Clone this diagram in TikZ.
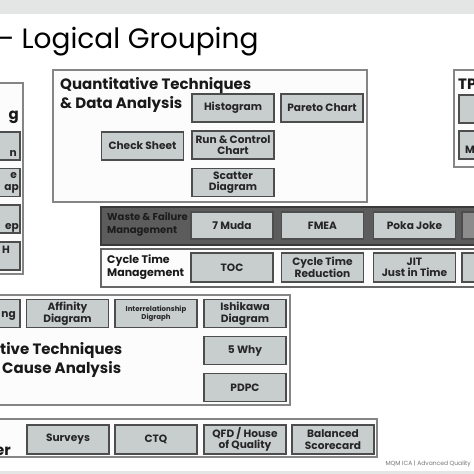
\documentclass[tikz,border=0pt]{standalone}
\usepackage{fontspec}
\setmainfont{Poppins}

\definecolor{toolfill}{HTML}{C8CECE}
\definecolor{toolline}{HTML}{4D4D4D}
\definecolor{groupline}{HTML}{858585}
\definecolor{groupfill}{HTML}{FCFCFC}
\definecolor{bandgray}{HTML}{E4E6E6}
\definecolor{wastefill}{HTML}{5C5C5C}
\definecolor{wasteline}{HTML}{3A3A3A}
\definecolor{wastetext}{HTML}{1C1C1C}

\tikzset{
  tool/.style={draw=toolline, fill=toolfill, line width=1.1pt, minimum width=82pt,
    minimum height=28pt, inner sep=1pt, align=center, text=black!85,
    font=\bfseries\fontsize{10.6}{11.5}\selectfont},
  tooltext/.style={inner sep=0pt, anchor=base east, text=black!85,
    font=\bfseries\fontsize{10.6}{11.5}\selectfont},
  group/.style={draw=groupline, fill=groupfill, line width=1.1pt},
  grouptitle/.style={inner sep=0pt, anchor=base west, text=black!90,
    font=\bfseries\fontsize{15}{19}\selectfont},
  rowtitle/.style={inner sep=0pt, anchor=base west, text=black!90,
    font=\bfseries\fontsize{11}{12}\selectfont},
}

\begin{document}
\begin{tikzpicture}[x=1pt,y=-1pt]
        \useasboundingbox (0,0) rectangle (474,474);
        \clip (0,0) rectangle (474,474);
        \fill[bandgray] (0,0) rectangle (474,14);
        \fill[bandgray] (0,471) rectangle (474,474);
        \node[inner sep=0pt, anchor=base west, font=\fontsize{28}{32}\selectfont] (heading) at (-5,48) {– Logical Grouping};

        % left group (cut off)
        \draw[group] (-10,83) rectangle (23,274);
        \node[grouptitle, anchor=base east] (leftttl) at (19,119) {g};
        \node[tool] (left1) at (-21,146) {};
        \node[tool] (left2) at (-21,182.5) {};
        \node[tool] (left3) at (-21,219) {};
        \node[tool] (left4) at (-21,256) {};
        \node[tooltext] (frag1) at (17,156) {n};
        \node[tooltext] (frag2) at (17,178) {e};
        \node[tooltext] (frag3) at (19,190) {ap};
        \node[tooltext] (frag4) at (19,229) {ep};
        \node[tooltext] (frag5) at (10,253) {H};

        % quantitative techniques
        \draw[group] (53,70) rectangle (367,202);
        \node[grouptitle] (quantA) at (60,89) {Quantitative Techniques};
        \node[grouptitle] (quantB) at (60,108) {\& Data Analysis};
        \node[tool] (histogram) at (233,108) {Histogram};
        \node[tool] (pareto) at (322,108) {Pareto Chart};
        \node[tool] (checksheet) at (142.5,146) {Check Sheet};
        \node[tool] (runchart) at (233,145) {Run \& Control\\Chart};
        \node[tool] (scatter) at (233,182.5) {Scatter\\Diagram};

        % TP group (cut off)
        \draw[group] (454,70) rectangle (490,167);
        \node[grouptitle] (tpttl) at (458,89) {TP};
        \node[tool] (tp1) at (500,109) {};
        \node[tool] (tp2) at (500,145) {};
        \node[tooltext, anchor=base west] (frag6) at (465,153) {M};

        % waste and failure row
        \draw[fill=wastefill, draw=wasteline, line width=1.1pt] (101,207) rectangle (490,245);
        \node[rowtitle, text=wastetext, font=\bfseries\fontsize{10}{12}\selectfont] (wasteA) at (107,220) {Waste \& Failure};
        \node[rowtitle, text=wastetext, font=\bfseries\fontsize{10}{12}\selectfont] (wasteB) at (107,233) {Management};
        \node[tool, minimum height=27pt] (muda) at (232,225.5) {7 Muda};
        \node[tool, minimum height=27pt] (fmea) at (322.5,225.5) {FMEA};
        \node[tool, minimum height=27pt] (pokajoke) at (414.5,225.5) {Poka Joke};
        \node[tool, minimum height=27pt, fill=black!45] (wastemore) at (503,225.5) {};

        % cycle time row
        \draw[group, draw=black!60] (101,249) rectangle (490,287);
        \node[rowtitle] (cycleA) at (107,263) {Cycle Time};
        \node[rowtitle] (cycleB) at (107,276) {Management};
        \node[tool, minimum height=29pt] (toc) at (232,267.5) {TOC};
        \node[tool, minimum height=29pt] (cyclered) at (322.5,267.5) {Cycle Time\\Reduction};
        \node[tool, minimum height=29pt] (jit) at (414.5,267.5) {JIT\\Just in Time};
        \node[tool, minimum height=29pt] (cyclemore) at (503,267.5) {};

        % qualitative techniques
        \draw[group] (-10,295) rectangle (290,405);
        \node[grouptitle] (qualA) at (0,354) {tive Techniques};
        \node[grouptitle] (qualB) at (2,373) {Cause Analysis};
        \node[tool] (qual0) at (-21,313.5) {};
        \node[tooltext] (frag7) at (16,317) {ng};
        \node[tool] (affinity) at (67.5,313.5) {Affinity\\Diagram};
        \node[tool, font=\bfseries\fontsize{7}{8.5}\selectfont] (digraph) at (156,313.5) {Interrelationship\\Digraph};
        \node[tool] (ishikawa) at (245,313.5) {Ishikawa\\Diagram};
        \node[tool] (fivewhy) at (245,350.5) {5 Why};
        \node[tool] (pdpc) at (245,387.5) {PDPC};

        % customer group (cut off)
        \draw[group] (-10,419) rectangle (377,457);
        \node[grouptitle, anchor=base east] (custttl) at (11,455) {er};
        \node[tool, minimum height=29pt] (surveys) at (68,439.5) {Surveys};
        \node[tool, minimum height=29pt] (ctq) at (156,439.5) {CTQ};
        \node[tool, minimum height=29pt] (qfd) at (245,439.5) {QFD / House\\of Quality};
        \node[tool, minimum height=29pt] (scorecard) at (333,439.5) {Balanced\\Scorecard};

        \node[inner sep=0pt, anchor=base east, text=black!55, font=\fontsize{6}{7}\selectfont] (footer) at (471,465) {MQM ICA | Advanced Quality};
\end{tikzpicture}
\end{document}
